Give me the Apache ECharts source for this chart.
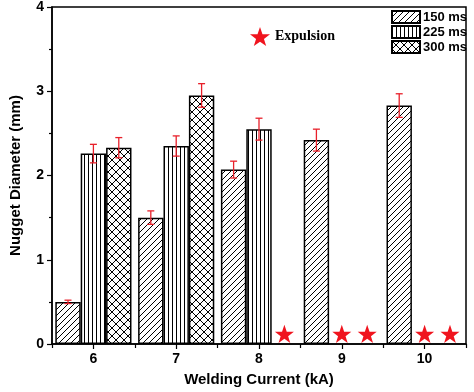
<!DOCTYPE html>
<html><head><meta charset="utf-8">
<script src="https://cdn.jsdelivr.net/npm/echarts@6/dist/echarts.min.js"></script>
<style>html,body{margin:0;padding:0;background:#fff}#c{width:474px;height:392px}</style>
</head><body><div id="c"></div>
<script>
// ---- data ----
const categories = ['6', '7', '8', '9', '10'];
const seriesNames = ['150 ms', '225 ms', '300 ms'];
const d150 = [0.50, 1.50, 2.07, 2.42, 2.83];
const d225 = [2.26, 2.35, 2.55, null, null];
const d300 = [2.33, 2.95, null, null, null];
const e150 = [0.02, 0.08, 0.10, 0.13, 0.14];
const e225 = [0.11, 0.12, 0.13, null, null];
const e300 = [0.12, 0.14, null, null, null];
const expulsionCat = ['8', '9', '9', '10', '10'];
const expulsionSlot = ['300 ms', '225 ms', '300 ms', '225 ms', '300 ms'];
const expulsionY = [0.12, 0.12, 0.12, 0.12, 0.12];
const yTicks = [0, 1, 2, 3, 4];

// ---- styling helpers ----
const FONT = '"Liberation Sans", Arial, sans-serif';
const RED = '#e8202a';
const STAR = 'path://M50,0 L61.8,35.1 L97.6,34.5 L68.8,56.9 L79.4,90.5 L50,70 L20.6,90.5 L31.2,56.9 L2.4,34.5 L38.2,35.1 Z';
const GAP = 0.08;

function pattern(kind) {
  const c = document.createElement('canvas');
  const s = kind === 'vert' ? 4 : (kind === 'diag' ? 6 : 8);
  c.width = s; c.height = s;
  const g = c.getContext('2d');
  g.fillStyle = '#fff'; g.fillRect(0, 0, s, s);
  g.strokeStyle = '#000'; g.lineWidth = 1;
  g.beginPath();
  if (kind === 'vert') {
    g.moveTo(0.5, 0); g.lineTo(0.5, s);
  } else if (kind === 'diag') {
    g.moveTo(-1, s + 1); g.lineTo(s + 1, -1);
    g.moveTo(-1, 1); g.lineTo(1, -1);
    g.moveTo(s - 1, s + 1); g.lineTo(s + 1, s - 1);
  } else {
    g.moveTo(-1, -1); g.lineTo(s + 1, s + 1);
    g.moveTo(-1, s + 1); g.lineTo(s + 1, -1);
  }
  g.stroke();
  return { image: c, repeat: 'repeat' };
}
const fills = [pattern('diag'), pattern('vert'), pattern('cross')];
const values = [d150, d225, d300];
const errs = [e150, e225, e300];

const barSeries = seriesNames.map((n, i) => ({
  name: n, type: 'bar', data: values[i],
  barGap: '0%', barCategoryGap: (GAP * 100) + '%',
  itemStyle: { color: fills[i], borderColor: '#000', borderWidth: 1.5 },
  emphasis: { disabled: true }
}));

const errData = [];
errs.forEach((arr, s) => arr.forEach((e, ci) => {
  if (e != null && values[s][ci] != null) errData.push([ci, values[s][ci], e, s]);
}));

const starData = expulsionCat.map((c, k) => [categories.indexOf(c), expulsionY[k], seriesNames.indexOf(expulsionSlot[k])]);

function slotOffset(api, s) {
  const band = api.size([1, 0])[0];
  const bw = band * (1 - GAP) / 3;
  return (s - 1) * bw;
}

const option = {
  animation: false,
  grid: { left: 49, right: 8, top: 6, bottom: 47, show: true, borderColor: '#000', borderWidth: 1.5, containLabel: false },
  legend: [{
    data: seriesNames.map(n => ({ name: n, icon: 'rect' })), orient: 'vertical', left: 391, top: 10, padding: 0,
    itemWidth: 28, itemHeight: 12, itemGap: 1,
    textStyle: { fontFamily: FONT, fontWeight: 'bold', fontSize: 13, lineHeight: 14, color: '#000', padding: [0, 0, 0, -2] },
    selectedMode: false
  }, {
    data: [{ name: 'Expulsion', icon: STAR }], left: 250, top: 27, padding: 0,
    itemWidth: 20, itemHeight: 20, itemGap: 0,
    textStyle: { fontFamily: '"Liberation Serif", "Times New Roman", serif', fontWeight: 'bold', fontSize: 14, color: '#000' },
    selectedMode: false
  }],
  xAxis: [{
    type: 'category', data: categories,
    name: 'Welding Current (kA)', nameLocation: 'middle', nameGap: 28,
    nameTextStyle: { fontFamily: FONT, fontWeight: 'bold', fontSize: 15, color: '#000' },
    axisLine: { lineStyle: { color: '#000', width: 1.5 } },
    axisTick: { show: true, alignWithLabel: false, length: 4, lineStyle: { color: '#000', width: 1.2 } },
    axisLabel: { fontFamily: FONT, fontWeight: 'bold', fontSize: 14, color: '#000', margin: 8 },
    splitLine: { show: false }
  }, {
    type: 'category', data: categories, position: 'bottom', gridIndex: 0,
    axisLine: { show: false },
    axisTick: { show: true, alignWithLabel: true, length: 5, lineStyle: { color: '#000', width: 1.2 } },
    axisLabel: { show: false }, splitLine: { show: false }
  }],
  yAxis: {
    type: 'value', min: yTicks[0], max: yTicks[yTicks.length - 1], interval: 1,
    name: 'Nugget Diameter (mm)', nameLocation: 'middle', nameGap: 29,
    nameTextStyle: { fontFamily: FONT, fontWeight: 'bold', fontSize: 15, color: '#000' },
    axisLine: { show: true, lineStyle: { color: '#000', width: 1.5 } },
    axisTick: { show: true, length: 5, lineStyle: { color: '#000', width: 1.2 } },
    minorTick: { show: true, splitNumber: 2, length: 3, lineStyle: { color: '#000', width: 1.2 } },
    axisLabel: { fontFamily: FONT, fontWeight: 'bold', fontSize: 14, color: '#000', margin: 8 },
    splitLine: { show: false }
  },
  series: barSeries.concat([{
    type: 'custom', name: 'err', data: errData, z: 5, silent: true,
    renderItem(params, api) {
      const ci = api.value(0), v = api.value(1), e = api.value(2), s = api.value(3);
      const off = slotOffset(api, s);
      const t = api.coord([ci, v + e]), b = api.coord([ci, v - e]);
      const x = t[0] + off;
      const st = { stroke: RED, lineWidth: 1.3 };
      return { type: 'group', children: [
        { type: 'line', shape: { x1: x, y1: t[1], x2: x, y2: b[1] }, style: st },
        { type: 'line', shape: { x1: x - 3.5, y1: t[1], x2: x + 3.5, y2: t[1] }, style: st },
        { type: 'line', shape: { x1: x - 3.5, y1: b[1], x2: x + 3.5, y2: b[1] }, style: st }
      ]};
    }
  }, {
    type: 'custom', name: 'Expulsion', data: starData, z: 6, silent: true,
    itemStyle: { color: '#f0141e' },
    renderItem(params, api) {
      const ci = api.value(0), v = api.value(1), s = api.value(2);
      const off = slotOffset(api, s);
      const p = api.coord([ci, v]);
      const sz = 19;
      return { type: 'path', shape: { pathData: STAR.slice(7), x: p[0] + off - sz / 2, y: p[1] - sz / 2, width: sz, height: sz },
        style: { fill: '#f0141e' } };
    }
  }])
};
const chart = echarts.init(document.getElementById('c'), null, { renderer: 'canvas' });
chart.setOption(option);
</script>
</body></html>
